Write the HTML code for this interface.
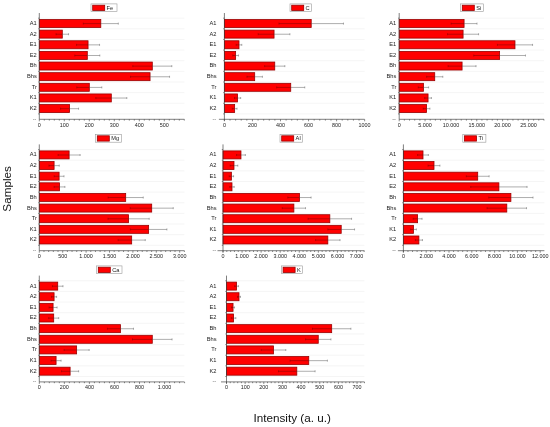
<!DOCTYPE html>
<html lang="en"><head><meta charset="utf-8"><title>Intensity by sample</title>
<style>html,body{margin:0;padding:0;background:#fff}svg{display:block}text{font-family:"Liberation Sans",sans-serif;fill:#1c1c1c}.t{font-size:5.4px}.c{font-size:5.7px}.ax{stroke:#3a3a3a;stroke-width:.65;fill:none}.tk{stroke:#3a3a3a;stroke-width:.6}.g{stroke:#ececec;stroke-width:.55}.b{fill:#ff0000;stroke:#990000;stroke-width:.8}.e{stroke:#5c5c5c;stroke-width:.5;fill:none}.ei{stroke:#7a0000;stroke-width:.5;fill:none}.lg{fill:#fff;stroke:#9a9a9a;stroke-width:.6}.big{font-size:11.7px;fill:#111}</style></head><body>
<svg width="550" height="427" viewBox="0 0 550 427">
<rect width="550" height="427" fill="#fff"/>
<g>
<line class="g" x1="39.3" y1="18.18" x2="184.4" y2="18.18"/>
<line class="g" x1="39.3" y1="28.82" x2="184.4" y2="28.82"/>
<line class="g" x1="39.3" y1="39.45" x2="184.4" y2="39.45"/>
<line class="g" x1="39.3" y1="50.09" x2="184.4" y2="50.09"/>
<line class="g" x1="39.3" y1="60.72" x2="184.4" y2="60.72"/>
<line class="g" x1="39.3" y1="71.36" x2="184.4" y2="71.36"/>
<line class="g" x1="39.3" y1="81.99" x2="184.4" y2="81.99"/>
<line class="g" x1="39.3" y1="92.63" x2="184.4" y2="92.63"/>
<line class="g" x1="39.3" y1="103.26" x2="184.4" y2="103.26"/>
<line class="g" x1="39.3" y1="113.90" x2="184.4" y2="113.90"/>
<rect class="b" x="39.3" y="19.50" width="61.50" height="8.0"/>
<rect class="b" x="39.3" y="30.13" width="23.00" height="8.0"/>
<rect class="b" x="39.3" y="40.77" width="48.75" height="8.0"/>
<rect class="b" x="39.3" y="51.41" width="48.00" height="8.0"/>
<rect class="b" x="39.3" y="62.04" width="113.00" height="8.0"/>
<rect class="b" x="39.3" y="72.67" width="110.75" height="8.0"/>
<rect class="b" x="39.3" y="83.31" width="50.00" height="8.0"/>
<rect class="b" x="39.3" y="93.94" width="72.00" height="8.0"/>
<rect class="b" x="39.3" y="104.58" width="30.25" height="8.0"/>
<path class="ei" d="M83.30 23.60H100.80M83.30 22.60v2"/>
<path class="e" d="M100.80 23.60H118.30M118.30 22.60v2"/>
<path class="ei" d="M56.05 34.23H62.30M56.05 33.23v2"/>
<path class="e" d="M62.30 34.23H68.55M68.55 33.23v2"/>
<path class="ei" d="M76.55 44.87H88.05M76.55 43.87v2"/>
<path class="e" d="M88.05 44.87H99.55M99.55 43.87v2"/>
<path class="ei" d="M74.80 55.51H87.30M74.80 54.51v2"/>
<path class="e" d="M87.30 55.51H99.80M99.80 54.51v2"/>
<path class="ei" d="M132.80 66.14H152.30M132.80 65.14v2"/>
<path class="e" d="M152.30 66.14H171.80M171.80 65.14v2"/>
<path class="ei" d="M130.55 76.77H150.05M130.55 75.77v2"/>
<path class="e" d="M150.05 76.77H169.55M169.55 75.77v2"/>
<path class="ei" d="M76.80 87.41H89.30M76.80 86.41v2"/>
<path class="e" d="M89.30 87.41H101.80M101.80 86.41v2"/>
<path class="ei" d="M95.80 98.04H111.30M95.80 97.04v2"/>
<path class="e" d="M111.30 98.04H126.80M126.80 97.04v2"/>
<path class="ei" d="M60.55 108.68H69.55M60.55 107.68v2"/>
<path class="e" d="M69.55 108.68H78.55M78.55 107.68v2"/>
<path class="ax" d="M39.3 13.0V119.3M39.3 119.3H184.4"/>
<path class="tk" d="M38.1 18.18h1.2M38.1 28.82h1.2M38.1 39.45h1.2M38.1 50.09h1.2M38.1 60.72h1.2M38.1 71.36h1.2M38.1 81.99h1.2M38.1 92.63h1.2M38.1 103.26h1.2M38.1 113.90h1.2"/>
<path class="tk" d="M39.30 119.3v2M44.30 119.3v1.3M49.30 119.3v1.3M54.30 119.3v1.3M59.30 119.3v1.3M64.30 119.3v2M69.30 119.3v1.3M74.30 119.3v1.3M79.30 119.3v1.3M84.30 119.3v1.3M89.30 119.3v2M94.30 119.3v1.3M99.30 119.3v1.3M104.30 119.3v1.3M109.30 119.3v1.3M114.30 119.3v2M119.30 119.3v1.3M124.30 119.3v1.3M129.30 119.3v1.3M134.30 119.3v1.3M139.30 119.3v2M144.30 119.3v1.3M149.30 119.3v1.3M154.30 119.3v1.3M159.30 119.3v1.3M164.30 119.3v2M169.30 119.3v1.3M174.30 119.3v1.3M179.30 119.3v1.3M184.30 119.3v1.3"/>
<text class="t" x="39.3" y="126.7" text-anchor="middle">0</text>
<text class="t" x="64.3" y="126.7" text-anchor="middle">100</text>
<text class="t" x="89.3" y="126.7" text-anchor="middle">200</text>
<text class="t" x="114.3" y="126.7" text-anchor="middle">300</text>
<text class="t" x="139.3" y="126.7" text-anchor="middle">400</text>
<text class="t" x="164.3" y="126.7" text-anchor="middle">500</text>
<text class="c" x="36.8" y="24.95" text-anchor="end">A1</text>
<text class="c" x="36.8" y="35.59" text-anchor="end">A2</text>
<text class="c" x="36.8" y="46.22" text-anchor="end">E1</text>
<text class="c" x="36.8" y="56.86" text-anchor="end">E2</text>
<text class="c" x="36.8" y="67.49" text-anchor="end">Bh</text>
<text class="c" x="36.8" y="78.12" text-anchor="end">Bhs</text>
<text class="c" x="36.8" y="88.76" text-anchor="end">Tr</text>
<text class="c" x="36.8" y="99.39" text-anchor="end">K1</text>
<text class="c" x="36.8" y="110.03" text-anchor="end">K2</text>
<text class="t" x="36.3" y="120.50" text-anchor="end" style="fill:#666">--</text>
<rect class="lg" x="91.0" y="3.9" width="26.0" height="7.7"/>
<rect class="b" x="92.7" y="5.2" width="12" height="5.3"/>
<text class="c" x="106.6" y="9.8">Fe</text>
</g>
<g>
<line class="g" x1="224.4" y1="18.18" x2="364.6" y2="18.18"/>
<line class="g" x1="224.4" y1="28.82" x2="364.6" y2="28.82"/>
<line class="g" x1="224.4" y1="39.45" x2="364.6" y2="39.45"/>
<line class="g" x1="224.4" y1="50.09" x2="364.6" y2="50.09"/>
<line class="g" x1="224.4" y1="60.72" x2="364.6" y2="60.72"/>
<line class="g" x1="224.4" y1="71.36" x2="364.6" y2="71.36"/>
<line class="g" x1="224.4" y1="81.99" x2="364.6" y2="81.99"/>
<line class="g" x1="224.4" y1="92.63" x2="364.6" y2="92.63"/>
<line class="g" x1="224.4" y1="103.26" x2="364.6" y2="103.26"/>
<line class="g" x1="224.4" y1="113.90" x2="364.6" y2="113.90"/>
<rect class="b" x="224.4" y="19.50" width="86.81" height="8.0"/>
<rect class="b" x="224.4" y="30.13" width="49.65" height="8.0"/>
<rect class="b" x="224.4" y="40.77" width="14.59" height="8.0"/>
<rect class="b" x="224.4" y="51.41" width="11.22" height="8.0"/>
<rect class="b" x="224.4" y="62.04" width="50.35" height="8.0"/>
<rect class="b" x="224.4" y="72.67" width="30.29" height="8.0"/>
<rect class="b" x="224.4" y="83.31" width="66.34" height="8.0"/>
<rect class="b" x="224.4" y="93.94" width="13.18" height="8.0"/>
<rect class="b" x="224.4" y="104.58" width="10.24" height="8.0"/>
<path class="ei" d="M278.96 23.60H311.21M278.96 22.60v2"/>
<path class="e" d="M311.21 23.60H343.47M343.47 22.60v2"/>
<path class="ei" d="M258.20 34.23H274.05M258.20 33.23v2"/>
<path class="e" d="M274.05 34.23H289.90M289.90 33.23v2"/>
<path class="ei" d="M236.18 44.87H238.99M236.18 43.87v2"/>
<path class="e" d="M238.99 44.87H241.79M241.79 43.87v2"/>
<path class="ei" d="M232.81 55.51H235.62M232.81 54.51v2"/>
<path class="e" d="M235.62 55.51H238.43M238.43 54.51v2"/>
<path class="ei" d="M264.65 66.14H274.75M264.65 65.14v2"/>
<path class="e" d="M274.75 66.14H284.85M284.85 65.14v2"/>
<path class="ei" d="M246.98 76.77H254.69M246.98 75.77v2"/>
<path class="e" d="M254.69 76.77H262.41M262.41 75.77v2"/>
<path class="ei" d="M276.71 87.41H290.74M276.71 86.41v2"/>
<path class="e" d="M290.74 87.41H304.76M304.76 86.41v2"/>
<path class="ei" d="M234.50 98.04H237.58M234.50 97.04v2"/>
<path class="e" d="M237.58 98.04H240.67M240.67 97.04v2"/>
<path class="ei" d="M232.25 108.68H234.64M232.25 107.68v2"/>
<path class="e" d="M234.64 108.68H237.02M237.02 107.68v2"/>
<path class="ax" d="M224.4 13.0V120.8M218.9 119.3H364.6"/>
<path class="tk" d="M223.2 18.18h1.2M223.2 28.82h1.2M223.2 39.45h1.2M223.2 50.09h1.2M223.2 60.72h1.2M223.2 71.36h1.2M223.2 81.99h1.2M223.2 92.63h1.2M223.2 103.26h1.2M223.2 113.90h1.2"/>
<path class="tk" d="M224.40 119.3v2M230.01 119.3v1.3M235.62 119.3v1.3M241.23 119.3v1.3M246.84 119.3v1.3M252.45 119.3v2M258.06 119.3v1.3M263.67 119.3v1.3M269.28 119.3v1.3M274.89 119.3v1.3M280.50 119.3v2M286.11 119.3v1.3M291.72 119.3v1.3M297.33 119.3v1.3M302.94 119.3v1.3M308.55 119.3v2M314.16 119.3v1.3M319.77 119.3v1.3M325.38 119.3v1.3M330.99 119.3v1.3M336.60 119.3v2M342.21 119.3v1.3M347.82 119.3v1.3M353.43 119.3v1.3M359.04 119.3v1.3M364.65 119.3v2"/>
<text class="t" x="224.4" y="126.7" text-anchor="middle">0</text>
<text class="t" x="252.5" y="126.7" text-anchor="middle">200</text>
<text class="t" x="280.5" y="126.7" text-anchor="middle">400</text>
<text class="t" x="308.6" y="126.7" text-anchor="middle">600</text>
<text class="t" x="336.6" y="126.7" text-anchor="middle">800</text>
<text class="t" x="364.6" y="126.7" text-anchor="middle">1000</text>
<text class="c" x="216.5" y="24.95" text-anchor="end">A1</text>
<text class="c" x="216.5" y="35.59" text-anchor="end">A2</text>
<text class="c" x="216.5" y="46.22" text-anchor="end">E1</text>
<text class="c" x="216.5" y="56.86" text-anchor="end">E2</text>
<text class="c" x="216.5" y="67.49" text-anchor="end">Bh</text>
<text class="c" x="216.5" y="78.12" text-anchor="end">Bhs</text>
<text class="c" x="216.5" y="88.76" text-anchor="end">Tr</text>
<text class="c" x="216.5" y="99.39" text-anchor="end">K1</text>
<text class="c" x="216.5" y="110.03" text-anchor="end">K2</text>
<text class="t" x="216.0" y="120.50" text-anchor="end" style="fill:#666">--</text>
<rect class="lg" x="290.0" y="3.9" width="21.6" height="7.7"/>
<rect class="b" x="291.7" y="5.2" width="12" height="5.3"/>
<text class="c" x="305.6" y="9.8">C</text>
</g>
<g>
<line class="g" x1="399.2" y1="18.18" x2="544.0" y2="18.18"/>
<line class="g" x1="399.2" y1="28.82" x2="544.0" y2="28.82"/>
<line class="g" x1="399.2" y1="39.45" x2="544.0" y2="39.45"/>
<line class="g" x1="399.2" y1="50.09" x2="544.0" y2="50.09"/>
<line class="g" x1="399.2" y1="60.72" x2="544.0" y2="60.72"/>
<line class="g" x1="399.2" y1="71.36" x2="544.0" y2="71.36"/>
<line class="g" x1="399.2" y1="81.99" x2="544.0" y2="81.99"/>
<line class="g" x1="399.2" y1="92.63" x2="544.0" y2="92.63"/>
<line class="g" x1="399.2" y1="103.26" x2="544.0" y2="103.26"/>
<line class="g" x1="399.2" y1="113.90" x2="544.0" y2="113.90"/>
<rect class="b" x="399.2" y="19.50" width="64.87" height="8.0"/>
<rect class="b" x="399.2" y="30.13" width="63.88" height="8.0"/>
<rect class="b" x="399.2" y="40.77" width="115.78" height="8.0"/>
<rect class="b" x="399.2" y="51.41" width="100.41" height="8.0"/>
<rect class="b" x="399.2" y="62.04" width="62.88" height="8.0"/>
<rect class="b" x="399.2" y="72.67" width="35.53" height="8.0"/>
<rect class="b" x="399.2" y="83.31" width="24.25" height="8.0"/>
<rect class="b" x="399.2" y="93.94" width="28.85" height="8.0"/>
<rect class="b" x="399.2" y="104.58" width="27.35" height="8.0"/>
<path class="ei" d="M451.15 23.60H464.07M451.15 22.60v2"/>
<path class="e" d="M464.07 23.60H477.00M477.00 22.60v2"/>
<path class="ei" d="M447.57 34.23H463.08M447.57 33.23v2"/>
<path class="e" d="M463.08 34.23H478.59M478.59 33.23v2"/>
<path class="ei" d="M497.40 44.87H514.98M497.40 43.87v2"/>
<path class="e" d="M514.98 44.87H532.55M532.55 43.87v2"/>
<path class="ei" d="M473.76 55.51H499.61M473.76 54.51v2"/>
<path class="e" d="M499.61 55.51H525.46M525.46 54.51v2"/>
<path class="ei" d="M448.12 66.14H462.08M448.12 65.14v2"/>
<path class="e" d="M462.08 66.14H476.04M476.04 65.14v2"/>
<path class="ei" d="M426.67 76.77H434.73M426.67 75.77v2"/>
<path class="e" d="M434.73 76.77H442.80M442.80 75.77v2"/>
<path class="ei" d="M418.28 87.41H423.45M418.28 86.41v2"/>
<path class="e" d="M423.45 87.41H428.62M428.62 86.41v2"/>
<path class="ei" d="M424.69 98.04H428.05M424.69 97.04v2"/>
<path class="e" d="M428.05 98.04H431.41M431.41 97.04v2"/>
<path class="ei" d="M423.19 108.68H426.55M423.19 107.68v2"/>
<path class="e" d="M426.55 108.68H429.91M429.91 107.68v2"/>
<path class="ax" d="M399.2 13.0V119.3M399.2 119.3H544.0"/>
<path class="tk" d="M398.0 18.18h1.2M398.0 28.82h1.2M398.0 39.45h1.2M398.0 50.09h1.2M398.0 60.72h1.2M398.0 71.36h1.2M398.0 81.99h1.2M398.0 92.63h1.2M398.0 103.26h1.2M398.0 113.90h1.2"/>
<path class="tk" d="M399.20 119.3v2M404.37 119.3v1.3M409.54 119.3v1.3M414.71 119.3v1.3M419.88 119.3v1.3M425.05 119.3v2M430.22 119.3v1.3M435.39 119.3v1.3M440.56 119.3v1.3M445.73 119.3v1.3M450.90 119.3v2M456.07 119.3v1.3M461.24 119.3v1.3M466.41 119.3v1.3M471.58 119.3v1.3M476.75 119.3v2M481.92 119.3v1.3M487.09 119.3v1.3M492.26 119.3v1.3M497.43 119.3v1.3M502.60 119.3v2M507.77 119.3v1.3M512.94 119.3v1.3M518.11 119.3v1.3M523.28 119.3v1.3M528.45 119.3v2M533.62 119.3v1.3M538.79 119.3v1.3M543.96 119.3v1.3"/>
<text class="t" x="399.2" y="126.7" text-anchor="middle">0</text>
<text class="t" x="425.1" y="126.7" text-anchor="middle">5.000</text>
<text class="t" x="450.9" y="126.7" text-anchor="middle">10.000</text>
<text class="t" x="476.8" y="126.7" text-anchor="middle">15.000</text>
<text class="t" x="502.6" y="126.7" text-anchor="middle">20.000</text>
<text class="t" x="528.5" y="126.7" text-anchor="middle">25.000</text>
<text class="c" x="396.3" y="24.95" text-anchor="end">A1</text>
<text class="c" x="396.3" y="35.59" text-anchor="end">A2</text>
<text class="c" x="396.3" y="46.22" text-anchor="end">E1</text>
<text class="c" x="396.3" y="56.86" text-anchor="end">E2</text>
<text class="c" x="396.3" y="67.49" text-anchor="end">Bh</text>
<text class="c" x="396.3" y="78.12" text-anchor="end">Bhs</text>
<text class="c" x="396.3" y="88.76" text-anchor="end">Tr</text>
<text class="c" x="396.3" y="99.39" text-anchor="end">K1</text>
<text class="c" x="396.3" y="110.03" text-anchor="end">K2</text>
<text class="t" x="395.8" y="120.50" text-anchor="end" style="fill:#666">--</text>
<rect class="lg" x="460.6" y="3.9" width="23.0" height="7.7"/>
<rect class="b" x="462.3" y="5.2" width="12" height="5.3"/>
<text class="c" x="476.2" y="9.8">Si</text>
</g>
<g>
<line class="g" x1="39.3" y1="149.58" x2="184.4" y2="149.58"/>
<line class="g" x1="39.3" y1="160.22" x2="184.4" y2="160.22"/>
<line class="g" x1="39.3" y1="170.85" x2="184.4" y2="170.85"/>
<line class="g" x1="39.3" y1="181.49" x2="184.4" y2="181.49"/>
<line class="g" x1="39.3" y1="192.12" x2="184.4" y2="192.12"/>
<line class="g" x1="39.3" y1="202.76" x2="184.4" y2="202.76"/>
<line class="g" x1="39.3" y1="213.39" x2="184.4" y2="213.39"/>
<line class="g" x1="39.3" y1="224.03" x2="184.4" y2="224.03"/>
<line class="g" x1="39.3" y1="234.66" x2="184.4" y2="234.66"/>
<line class="g" x1="39.3" y1="245.30" x2="184.4" y2="245.30"/>
<rect class="b" x="39.3" y="150.90" width="29.81" height="8.0"/>
<rect class="b" x="39.3" y="161.53" width="14.79" height="8.0"/>
<rect class="b" x="39.3" y="172.17" width="19.80" height="8.0"/>
<rect class="b" x="39.3" y="182.81" width="20.22" height="8.0"/>
<rect class="b" x="39.3" y="193.44" width="86.39" height="8.0"/>
<rect class="b" x="39.3" y="204.07" width="112.41" height="8.0"/>
<rect class="b" x="39.3" y="214.71" width="89.29" height="8.0"/>
<rect class="b" x="39.3" y="225.34" width="109.32" height="8.0"/>
<rect class="b" x="39.3" y="235.98" width="92.38" height="8.0"/>
<path class="ei" d="M58.11 155.00H69.11M58.11 154.00v2"/>
<path class="e" d="M69.11 155.00H80.11M80.11 154.00v2"/>
<path class="ei" d="M48.94 165.63H54.09M48.94 164.63v2"/>
<path class="e" d="M54.09 165.63H59.24M59.24 164.63v2"/>
<path class="ei" d="M54.18 176.27H59.10M54.18 175.27v2"/>
<path class="e" d="M59.10 176.27H64.01M64.01 175.27v2"/>
<path class="ei" d="M54.14 186.91H59.52M54.14 185.91v2"/>
<path class="e" d="M59.52 186.91H64.90M64.90 185.91v2"/>
<path class="ei" d="M108.14 197.54H125.69M108.14 196.54v2"/>
<path class="e" d="M125.69 197.54H143.24M143.24 196.54v2"/>
<path class="ei" d="M130.19 208.17H151.71M130.19 207.17v2"/>
<path class="e" d="M151.71 208.17H173.24M173.24 207.17v2"/>
<path class="ei" d="M108.00 218.81H128.59M108.00 217.81v2"/>
<path class="e" d="M128.59 218.81H149.19M149.19 217.81v2"/>
<path class="ei" d="M130.37 229.44H148.62M130.37 228.44v2"/>
<path class="e" d="M148.62 229.44H166.88M166.88 228.44v2"/>
<path class="ei" d="M118.11 240.08H131.68M118.11 239.08v2"/>
<path class="e" d="M131.68 240.08H145.26M145.26 239.08v2"/>
<path class="ax" d="M39.3 144.4V250.7M39.3 250.7H184.4"/>
<path class="tk" d="M38.1 149.58h1.2M38.1 160.22h1.2M38.1 170.85h1.2M38.1 181.49h1.2M38.1 192.12h1.2M38.1 202.76h1.2M38.1 213.39h1.2M38.1 224.03h1.2M38.1 234.66h1.2M38.1 245.30h1.2"/>
<path class="tk" d="M39.30 250.7v2M43.98 250.7v1.3M48.66 250.7v1.3M53.34 250.7v1.3M58.02 250.7v1.3M62.70 250.7v2M67.38 250.7v1.3M72.06 250.7v1.3M76.74 250.7v1.3M81.42 250.7v1.3M86.10 250.7v2M90.78 250.7v1.3M95.46 250.7v1.3M100.14 250.7v1.3M104.82 250.7v1.3M109.50 250.7v2M114.18 250.7v1.3M118.86 250.7v1.3M123.54 250.7v1.3M128.22 250.7v1.3M132.90 250.7v2M137.58 250.7v1.3M142.26 250.7v1.3M146.94 250.7v1.3M151.62 250.7v1.3M156.30 250.7v2M160.98 250.7v1.3M165.66 250.7v1.3M170.34 250.7v1.3M175.02 250.7v1.3M179.70 250.7v2M184.38 250.7v1.3"/>
<text class="t" x="39.3" y="258.1" text-anchor="middle">0</text>
<text class="t" x="62.7" y="258.1" text-anchor="middle">500</text>
<text class="t" x="86.1" y="258.1" text-anchor="middle">1.000</text>
<text class="t" x="109.5" y="258.1" text-anchor="middle">1.500</text>
<text class="t" x="132.9" y="258.1" text-anchor="middle">2.000</text>
<text class="t" x="156.3" y="258.1" text-anchor="middle">2.500</text>
<text class="t" x="179.7" y="258.1" text-anchor="middle">3.000</text>
<text class="c" x="36.8" y="156.35" text-anchor="end">A1</text>
<text class="c" x="36.8" y="166.98" text-anchor="end">A2</text>
<text class="c" x="36.8" y="177.62" text-anchor="end">E1</text>
<text class="c" x="36.8" y="188.25" text-anchor="end">E2</text>
<text class="c" x="36.8" y="198.89" text-anchor="end">Bh</text>
<text class="c" x="36.8" y="209.52" text-anchor="end">Bhs</text>
<text class="c" x="36.8" y="220.16" text-anchor="end">Tr</text>
<text class="c" x="36.8" y="230.79" text-anchor="end">K1</text>
<text class="c" x="36.8" y="241.43" text-anchor="end">K2</text>
<text class="t" x="36.3" y="251.90" text-anchor="end" style="fill:#666">--</text>
<rect class="lg" x="95.6" y="134.5" width="26.0" height="7.7"/>
<rect class="b" x="97.3" y="135.8" width="12" height="5.3"/>
<text class="c" x="111.2" y="140.3">Mg</text>
</g>
<g>
<line class="g" x1="223.0" y1="149.58" x2="364.4" y2="149.58"/>
<line class="g" x1="223.0" y1="160.22" x2="364.4" y2="160.22"/>
<line class="g" x1="223.0" y1="170.85" x2="364.4" y2="170.85"/>
<line class="g" x1="223.0" y1="181.49" x2="364.4" y2="181.49"/>
<line class="g" x1="223.0" y1="192.12" x2="364.4" y2="192.12"/>
<line class="g" x1="223.0" y1="202.76" x2="364.4" y2="202.76"/>
<line class="g" x1="223.0" y1="213.39" x2="364.4" y2="213.39"/>
<line class="g" x1="223.0" y1="224.03" x2="364.4" y2="224.03"/>
<line class="g" x1="223.0" y1="234.66" x2="364.4" y2="234.66"/>
<line class="g" x1="223.0" y1="245.30" x2="364.4" y2="245.30"/>
<rect class="b" x="223.0" y="150.90" width="17.96" height="8.0"/>
<rect class="b" x="223.0" y="161.53" width="10.98" height="8.0"/>
<rect class="b" x="223.0" y="172.17" width="8.39" height="8.0"/>
<rect class="b" x="223.0" y="182.81" width="8.98" height="8.0"/>
<rect class="b" x="223.0" y="193.44" width="76.47" height="8.0"/>
<rect class="b" x="223.0" y="204.07" width="70.88" height="8.0"/>
<rect class="b" x="223.0" y="214.71" width="106.83" height="8.0"/>
<rect class="b" x="223.0" y="225.34" width="118.21" height="8.0"/>
<rect class="b" x="223.0" y="235.98" width="104.83" height="8.0"/>
<path class="ei" d="M236.58 155.00H240.96M236.58 154.00v2"/>
<path class="e" d="M240.96 155.00H245.35M245.35 154.00v2"/>
<path class="ei" d="M230.17 165.63H233.98M230.17 164.63v2"/>
<path class="e" d="M233.98 165.63H237.80M237.80 164.63v2"/>
<path class="ei" d="M229.20 176.27H231.39M229.20 175.27v2"/>
<path class="e" d="M231.39 176.27H233.58M233.58 175.27v2"/>
<path class="ei" d="M229.79 186.91H231.98M229.79 185.91v2"/>
<path class="e" d="M231.98 186.91H234.18M234.18 185.91v2"/>
<path class="ei" d="M287.84 197.54H299.47M287.84 196.54v2"/>
<path class="e" d="M299.47 197.54H311.10M311.10 196.54v2"/>
<path class="ei" d="M282.25 208.17H293.88M282.25 207.17v2"/>
<path class="e" d="M293.88 208.17H305.52M305.52 207.17v2"/>
<path class="ei" d="M308.09 218.81H329.83M308.09 217.81v2"/>
<path class="e" d="M329.83 218.81H351.57M351.57 217.81v2"/>
<path class="ei" d="M327.87 229.44H341.21M327.87 228.44v2"/>
<path class="e" d="M341.21 229.44H354.56M354.56 228.44v2"/>
<path class="ei" d="M315.62 240.08H327.83M315.62 239.08v2"/>
<path class="e" d="M327.83 240.08H340.03M340.03 239.08v2"/>
<path class="ax" d="M223.0 144.4V252.2M217.5 250.7H364.4"/>
<path class="tk" d="M221.8 149.58h1.2M221.8 160.22h1.2M221.8 170.85h1.2M221.8 181.49h1.2M221.8 192.12h1.2M221.8 202.76h1.2M221.8 213.39h1.2M221.8 224.03h1.2M221.8 234.66h1.2M221.8 245.30h1.2"/>
<path class="tk" d="M223.00 250.7v2M226.81 250.7v1.3M230.63 250.7v1.3M234.44 250.7v1.3M238.26 250.7v1.3M242.07 250.7v2M245.88 250.7v1.3M249.70 250.7v1.3M253.51 250.7v1.3M257.33 250.7v1.3M261.14 250.7v2M264.95 250.7v1.3M268.77 250.7v1.3M272.58 250.7v1.3M276.40 250.7v1.3M280.21 250.7v2M284.02 250.7v1.3M287.84 250.7v1.3M291.65 250.7v1.3M295.47 250.7v1.3M299.28 250.7v2M303.09 250.7v1.3M306.91 250.7v1.3M310.72 250.7v1.3M314.54 250.7v1.3M318.35 250.7v2M322.16 250.7v1.3M325.98 250.7v1.3M329.79 250.7v1.3M333.61 250.7v1.3M337.42 250.7v2M341.23 250.7v1.3M345.05 250.7v1.3M348.86 250.7v1.3M352.68 250.7v1.3M356.49 250.7v2M360.30 250.7v1.3M364.12 250.7v1.3"/>
<text class="t" x="223.0" y="258.1" text-anchor="middle">0</text>
<text class="t" x="242.1" y="258.1" text-anchor="middle">1.000</text>
<text class="t" x="261.1" y="258.1" text-anchor="middle">2.000</text>
<text class="t" x="280.2" y="258.1" text-anchor="middle">3.000</text>
<text class="t" x="299.3" y="258.1" text-anchor="middle">4.000</text>
<text class="t" x="318.4" y="258.1" text-anchor="middle">5.000</text>
<text class="t" x="337.4" y="258.1" text-anchor="middle">6.000</text>
<text class="t" x="356.5" y="258.1" text-anchor="middle">7.000</text>
<text class="c" x="216.5" y="156.35" text-anchor="end">A1</text>
<text class="c" x="216.5" y="166.98" text-anchor="end">A2</text>
<text class="c" x="216.5" y="177.62" text-anchor="end">E1</text>
<text class="c" x="216.5" y="188.25" text-anchor="end">E2</text>
<text class="c" x="216.5" y="198.89" text-anchor="end">Bh</text>
<text class="c" x="216.5" y="209.52" text-anchor="end">Bhs</text>
<text class="c" x="216.5" y="220.16" text-anchor="end">Tr</text>
<text class="c" x="216.5" y="230.79" text-anchor="end">K1</text>
<text class="c" x="216.5" y="241.43" text-anchor="end">K2</text>
<text class="t" x="216.0" y="251.90" text-anchor="end" style="fill:#666">--</text>
<rect class="lg" x="280.0" y="134.5" width="22.6" height="7.7"/>
<rect class="b" x="281.7" y="135.8" width="12" height="5.3"/>
<text class="c" x="295.6" y="140.3">Al</text>
</g>
<g>
<line class="g" x1="403.4" y1="149.58" x2="544.4" y2="149.58"/>
<line class="g" x1="403.4" y1="160.22" x2="544.4" y2="160.22"/>
<line class="g" x1="403.4" y1="170.85" x2="544.4" y2="170.85"/>
<line class="g" x1="403.4" y1="181.49" x2="544.4" y2="181.49"/>
<line class="g" x1="403.4" y1="192.12" x2="544.4" y2="192.12"/>
<line class="g" x1="403.4" y1="202.76" x2="544.4" y2="202.76"/>
<line class="g" x1="403.4" y1="213.39" x2="544.4" y2="213.39"/>
<line class="g" x1="403.4" y1="224.03" x2="544.4" y2="224.03"/>
<line class="g" x1="403.4" y1="234.66" x2="544.4" y2="234.66"/>
<line class="g" x1="403.4" y1="245.30" x2="544.4" y2="245.30"/>
<rect class="b" x="403.4" y="150.90" width="19.60" height="8.0"/>
<rect class="b" x="403.4" y="161.53" width="30.60" height="8.0"/>
<rect class="b" x="403.4" y="172.17" width="74.31" height="8.0"/>
<rect class="b" x="403.4" y="182.81" width="95.50" height="8.0"/>
<rect class="b" x="403.4" y="193.44" width="107.50" height="8.0"/>
<rect class="b" x="403.4" y="204.07" width="103.40" height="8.0"/>
<rect class="b" x="403.4" y="214.71" width="14.20" height="8.0"/>
<rect class="b" x="403.4" y="225.34" width="10.10" height="8.0"/>
<rect class="b" x="403.4" y="235.98" width="15.50" height="8.0"/>
<path class="ei" d="M417.64 155.00H423.00M417.64 154.00v2"/>
<path class="e" d="M423.00 155.00H428.35M428.35 154.00v2"/>
<path class="ei" d="M428.07 165.63H434.00M428.07 164.63v2"/>
<path class="e" d="M434.00 165.63H439.93M439.93 164.63v2"/>
<path class="ei" d="M466.31 176.27H477.71M466.31 175.27v2"/>
<path class="e" d="M477.71 176.27H489.11M489.11 175.27v2"/>
<path class="ei" d="M470.74 186.91H498.90M470.74 185.91v2"/>
<path class="e" d="M498.90 186.91H527.06M527.06 185.91v2"/>
<path class="ei" d="M488.79 197.54H510.90M488.79 196.54v2"/>
<path class="e" d="M510.90 197.54H533.02M533.02 196.54v2"/>
<path class="ei" d="M487.08 208.17H506.80M487.08 207.17v2"/>
<path class="e" d="M506.80 208.17H526.52M526.52 207.17v2"/>
<path class="ei" d="M413.16 218.81H417.60M413.16 217.81v2"/>
<path class="e" d="M417.60 218.81H422.05M422.05 217.81v2"/>
<path class="ei" d="M410.65 229.44H413.50M410.65 228.44v2"/>
<path class="e" d="M413.50 229.44H416.35M416.35 228.44v2"/>
<path class="ei" d="M415.37 240.08H418.90M415.37 239.08v2"/>
<path class="e" d="M418.90 240.08H422.44M422.44 239.08v2"/>
<path class="ax" d="M403.4 144.4V252.2M397.9 250.7H544.4"/>
<path class="tk" d="M402.2 149.58h1.2M402.2 160.22h1.2M402.2 170.85h1.2M402.2 181.49h1.2M402.2 192.12h1.2M402.2 202.76h1.2M402.2 213.39h1.2M402.2 224.03h1.2M402.2 234.66h1.2M402.2 245.30h1.2"/>
<path class="tk" d="M403.40 250.7v2M407.96 250.7v1.3M412.52 250.7v1.3M417.08 250.7v1.3M421.64 250.7v1.3M426.20 250.7v2M430.76 250.7v1.3M435.32 250.7v1.3M439.88 250.7v1.3M444.44 250.7v1.3M449.00 250.7v2M453.56 250.7v1.3M458.12 250.7v1.3M462.68 250.7v1.3M467.24 250.7v1.3M471.80 250.7v2M476.36 250.7v1.3M480.92 250.7v1.3M485.48 250.7v1.3M490.04 250.7v1.3M494.60 250.7v2M499.16 250.7v1.3M503.72 250.7v1.3M508.28 250.7v1.3M512.84 250.7v1.3M517.40 250.7v2M521.96 250.7v1.3M526.52 250.7v1.3M531.08 250.7v1.3M535.64 250.7v1.3M540.20 250.7v2"/>
<text class="t" x="403.4" y="258.1" text-anchor="middle">0</text>
<text class="t" x="426.2" y="258.1" text-anchor="middle">2.000</text>
<text class="t" x="449.0" y="258.1" text-anchor="middle">4.000</text>
<text class="t" x="471.8" y="258.1" text-anchor="middle">6.000</text>
<text class="t" x="494.6" y="258.1" text-anchor="middle">8.000</text>
<text class="t" x="517.4" y="258.1" text-anchor="middle">10.000</text>
<text class="t" x="540.2" y="258.1" text-anchor="middle">12.000</text>
<text class="c" x="396.3" y="156.35" text-anchor="end">A1</text>
<text class="c" x="396.3" y="166.98" text-anchor="end">A2</text>
<text class="c" x="396.3" y="177.62" text-anchor="end">E1</text>
<text class="c" x="396.3" y="188.25" text-anchor="end">E2</text>
<text class="c" x="396.3" y="198.89" text-anchor="end">Bh</text>
<text class="c" x="396.3" y="209.52" text-anchor="end">Bhs</text>
<text class="c" x="396.3" y="220.16" text-anchor="end">Tr</text>
<text class="c" x="396.3" y="230.79" text-anchor="end">K1</text>
<text class="c" x="396.3" y="241.43" text-anchor="end">K2</text>
<text class="t" x="395.8" y="251.90" text-anchor="end" style="fill:#666">--</text>
<rect class="lg" x="462.8" y="134.5" width="23.1" height="7.7"/>
<rect class="b" x="464.5" y="135.8" width="12" height="5.3"/>
<text class="c" x="478.4" y="140.3">Ti</text>
</g>
<g>
<line class="g" x1="39.3" y1="280.78" x2="184.4" y2="280.78"/>
<line class="g" x1="39.3" y1="291.42" x2="184.4" y2="291.42"/>
<line class="g" x1="39.3" y1="302.05" x2="184.4" y2="302.05"/>
<line class="g" x1="39.3" y1="312.69" x2="184.4" y2="312.69"/>
<line class="g" x1="39.3" y1="323.32" x2="184.4" y2="323.32"/>
<line class="g" x1="39.3" y1="333.96" x2="184.4" y2="333.96"/>
<line class="g" x1="39.3" y1="344.59" x2="184.4" y2="344.59"/>
<line class="g" x1="39.3" y1="355.23" x2="184.4" y2="355.23"/>
<line class="g" x1="39.3" y1="365.86" x2="184.4" y2="365.86"/>
<line class="g" x1="39.3" y1="376.50" x2="184.4" y2="376.50"/>
<rect class="b" x="39.3" y="282.10" width="18.41" height="8.0"/>
<rect class="b" x="39.3" y="292.74" width="14.78" height="8.0"/>
<rect class="b" x="39.3" y="303.37" width="13.78" height="8.0"/>
<rect class="b" x="39.3" y="314.00" width="14.40" height="8.0"/>
<rect class="b" x="39.3" y="324.64" width="81.16" height="8.0"/>
<rect class="b" x="39.3" y="335.28" width="112.98" height="8.0"/>
<rect class="b" x="39.3" y="345.91" width="37.32" height="8.0"/>
<rect class="b" x="39.3" y="356.55" width="16.78" height="8.0"/>
<rect class="b" x="39.3" y="367.18" width="30.81" height="8.0"/>
<path class="ei" d="M52.45 286.20H57.71M52.45 285.20v2"/>
<path class="e" d="M57.71 286.20H62.97M62.97 285.20v2"/>
<path class="ei" d="M51.57 296.84H54.08M51.57 295.84v2"/>
<path class="e" d="M54.08 296.84H56.58M56.58 295.84v2"/>
<path class="ei" d="M49.07 307.47H53.08M49.07 306.47v2"/>
<path class="e" d="M53.08 307.47H57.09M57.09 306.47v2"/>
<path class="ei" d="M48.69 318.11H53.70M48.69 317.11v2"/>
<path class="e" d="M53.70 318.11H58.71M58.71 317.11v2"/>
<path class="ei" d="M107.44 328.74H120.46M107.44 327.74v2"/>
<path class="e" d="M120.46 328.74H133.49M133.49 327.74v2"/>
<path class="ei" d="M132.49 339.38H152.28M132.49 338.38v2"/>
<path class="e" d="M152.28 339.38H172.06M172.06 338.38v2"/>
<path class="ei" d="M64.10 350.01H76.62M64.10 349.01v2"/>
<path class="e" d="M76.62 350.01H89.15M89.15 349.01v2"/>
<path class="ei" d="M51.07 360.65H56.08M51.07 359.65v2"/>
<path class="e" d="M56.08 360.65H61.09M61.09 359.65v2"/>
<path class="ei" d="M61.59 371.28H70.11M61.59 370.28v2"/>
<path class="e" d="M70.11 371.28H78.63M78.63 370.28v2"/>
<path class="ax" d="M39.3 275.6V381.9M39.3 381.9H184.4"/>
<path class="tk" d="M38.1 280.78h1.2M38.1 291.42h1.2M38.1 302.05h1.2M38.1 312.69h1.2M38.1 323.32h1.2M38.1 333.96h1.2M38.1 344.59h1.2M38.1 355.23h1.2M38.1 365.86h1.2M38.1 376.50h1.2"/>
<path class="tk" d="M39.30 381.9v2M44.31 381.9v1.3M49.32 381.9v1.3M54.33 381.9v1.3M59.34 381.9v1.3M64.35 381.9v2M69.36 381.9v1.3M74.37 381.9v1.3M79.38 381.9v1.3M84.39 381.9v1.3M89.40 381.9v2M94.41 381.9v1.3M99.42 381.9v1.3M104.43 381.9v1.3M109.44 381.9v1.3M114.45 381.9v2M119.46 381.9v1.3M124.47 381.9v1.3M129.48 381.9v1.3M134.49 381.9v1.3M139.50 381.9v2M144.51 381.9v1.3M149.52 381.9v1.3M154.53 381.9v1.3M159.54 381.9v1.3M164.55 381.9v2M169.56 381.9v1.3M174.57 381.9v1.3M179.58 381.9v1.3M184.59 381.9v1.3"/>
<text class="t" x="39.3" y="389.3" text-anchor="middle">0</text>
<text class="t" x="64.3" y="389.3" text-anchor="middle">200</text>
<text class="t" x="89.4" y="389.3" text-anchor="middle">400</text>
<text class="t" x="114.5" y="389.3" text-anchor="middle">600</text>
<text class="t" x="139.5" y="389.3" text-anchor="middle">800</text>
<text class="t" x="164.6" y="389.3" text-anchor="middle">1.000</text>
<text class="c" x="36.8" y="287.55" text-anchor="end">A1</text>
<text class="c" x="36.8" y="298.19" text-anchor="end">A2</text>
<text class="c" x="36.8" y="308.82" text-anchor="end">E1</text>
<text class="c" x="36.8" y="319.45" text-anchor="end">E2</text>
<text class="c" x="36.8" y="330.09" text-anchor="end">Bh</text>
<text class="c" x="36.8" y="340.73" text-anchor="end">Bhs</text>
<text class="c" x="36.8" y="351.36" text-anchor="end">Tr</text>
<text class="c" x="36.8" y="362.00" text-anchor="end">K1</text>
<text class="c" x="36.8" y="372.63" text-anchor="end">K2</text>
<text class="t" x="36.3" y="383.10" text-anchor="end" style="fill:#666">--</text>
<rect class="lg" x="96.6" y="265.9" width="25.4" height="7.7"/>
<rect class="b" x="98.3" y="267.2" width="12" height="5.3"/>
<text class="c" x="112.2" y="271.8">Ca</text>
</g>
<g>
<line class="g" x1="226.5" y1="280.78" x2="364.4" y2="280.78"/>
<line class="g" x1="226.5" y1="291.42" x2="364.4" y2="291.42"/>
<line class="g" x1="226.5" y1="302.05" x2="364.4" y2="302.05"/>
<line class="g" x1="226.5" y1="312.69" x2="364.4" y2="312.69"/>
<line class="g" x1="226.5" y1="323.32" x2="364.4" y2="323.32"/>
<line class="g" x1="226.5" y1="333.96" x2="364.4" y2="333.96"/>
<line class="g" x1="226.5" y1="344.59" x2="364.4" y2="344.59"/>
<line class="g" x1="226.5" y1="355.23" x2="364.4" y2="355.23"/>
<line class="g" x1="226.5" y1="365.86" x2="364.4" y2="365.86"/>
<line class="g" x1="226.5" y1="376.50" x2="364.4" y2="376.50"/>
<rect class="b" x="226.5" y="282.10" width="10.07" height="8.0"/>
<rect class="b" x="226.5" y="292.74" width="12.50" height="8.0"/>
<rect class="b" x="226.5" y="303.37" width="6.53" height="8.0"/>
<rect class="b" x="226.5" y="314.00" width="7.09" height="8.0"/>
<rect class="b" x="226.5" y="324.64" width="105.19" height="8.0"/>
<rect class="b" x="226.5" y="335.28" width="91.76" height="8.0"/>
<rect class="b" x="226.5" y="345.91" width="47.00" height="8.0"/>
<rect class="b" x="226.5" y="356.55" width="82.25" height="8.0"/>
<rect class="b" x="226.5" y="367.18" width="70.31" height="8.0"/>
<path class="ei" d="M234.71 286.20H236.57M234.71 285.20v2"/>
<path class="e" d="M236.57 286.20H238.44M238.44 285.20v2"/>
<path class="ei" d="M237.50 296.84H239.00M237.50 295.84v2"/>
<path class="e" d="M239.00 296.84H240.49M240.49 295.84v2"/>
<path class="ei" d="M231.54 307.47H233.03M231.54 306.47v2"/>
<path class="e" d="M233.03 307.47H234.52M234.52 306.47v2"/>
<path class="ei" d="M231.35 318.11H233.59M231.35 317.11v2"/>
<path class="e" d="M233.59 318.11H235.82M235.82 317.11v2"/>
<path class="ei" d="M312.48 328.74H331.69M312.48 327.74v2"/>
<path class="e" d="M331.69 328.74H350.90M350.90 327.74v2"/>
<path class="ei" d="M305.58 339.38H318.26M305.58 338.38v2"/>
<path class="e" d="M318.26 339.38H330.94M330.94 338.38v2"/>
<path class="ei" d="M261.19 350.01H273.50M261.19 349.01v2"/>
<path class="e" d="M273.50 350.01H285.81M285.81 349.01v2"/>
<path class="ei" d="M290.10 360.65H308.75M290.10 359.65v2"/>
<path class="e" d="M308.75 360.65H327.40M327.40 359.65v2"/>
<path class="ei" d="M278.53 371.28H296.81M278.53 370.28v2"/>
<path class="e" d="M296.81 371.28H315.09M315.09 370.28v2"/>
<path class="ax" d="M226.5 275.6V383.4M221.0 381.9H364.4"/>
<path class="tk" d="M225.3 280.78h1.2M225.3 291.42h1.2M225.3 302.05h1.2M225.3 312.69h1.2M225.3 323.32h1.2M225.3 333.96h1.2M225.3 344.59h1.2M225.3 355.23h1.2M225.3 365.86h1.2M225.3 376.50h1.2"/>
<path class="tk" d="M226.50 381.9v2M230.23 381.9v1.3M233.96 381.9v1.3M237.69 381.9v1.3M241.42 381.9v1.3M245.15 381.9v2M248.88 381.9v1.3M252.61 381.9v1.3M256.34 381.9v1.3M260.07 381.9v1.3M263.80 381.9v2M267.53 381.9v1.3M271.26 381.9v1.3M274.99 381.9v1.3M278.72 381.9v1.3M282.45 381.9v2M286.18 381.9v1.3M289.91 381.9v1.3M293.64 381.9v1.3M297.37 381.9v1.3M301.10 381.9v2M304.83 381.9v1.3M308.56 381.9v1.3M312.29 381.9v1.3M316.02 381.9v1.3M319.75 381.9v2M323.48 381.9v1.3M327.21 381.9v1.3M330.94 381.9v1.3M334.67 381.9v1.3M338.40 381.9v2M342.13 381.9v1.3M345.86 381.9v1.3M349.59 381.9v1.3M353.32 381.9v1.3M357.05 381.9v2M360.78 381.9v1.3M364.51 381.9v1.3"/>
<text class="t" x="226.5" y="389.3" text-anchor="middle">0</text>
<text class="t" x="245.2" y="389.3" text-anchor="middle">100</text>
<text class="t" x="263.8" y="389.3" text-anchor="middle">200</text>
<text class="t" x="282.4" y="389.3" text-anchor="middle">300</text>
<text class="t" x="301.1" y="389.3" text-anchor="middle">400</text>
<text class="t" x="319.8" y="389.3" text-anchor="middle">500</text>
<text class="t" x="338.4" y="389.3" text-anchor="middle">600</text>
<text class="t" x="357.1" y="389.3" text-anchor="middle">700</text>
<text class="c" x="216.5" y="287.55" text-anchor="end">A1</text>
<text class="c" x="216.5" y="298.19" text-anchor="end">A2</text>
<text class="c" x="216.5" y="308.82" text-anchor="end">E1</text>
<text class="c" x="216.5" y="319.45" text-anchor="end">E2</text>
<text class="c" x="216.5" y="330.09" text-anchor="end">Bh</text>
<text class="c" x="216.5" y="340.73" text-anchor="end">Bhs</text>
<text class="c" x="216.5" y="351.36" text-anchor="end">Tr</text>
<text class="c" x="216.5" y="362.00" text-anchor="end">K1</text>
<text class="c" x="216.5" y="372.63" text-anchor="end">K2</text>
<text class="t" x="216.0" y="383.10" text-anchor="end" style="fill:#666">--</text>
<rect class="lg" x="281.4" y="265.9" width="21.2" height="7.7"/>
<rect class="b" x="283.1" y="267.2" width="12" height="5.3"/>
<text class="c" x="297.0" y="271.8">K</text>
</g>
<text class="big" x="292.2" y="421.8" text-anchor="middle">Intensity (a. u.)</text>
<text class="big" transform="translate(10.6 188.9) rotate(-90)" text-anchor="middle">Samples</text>
</svg></body></html>
